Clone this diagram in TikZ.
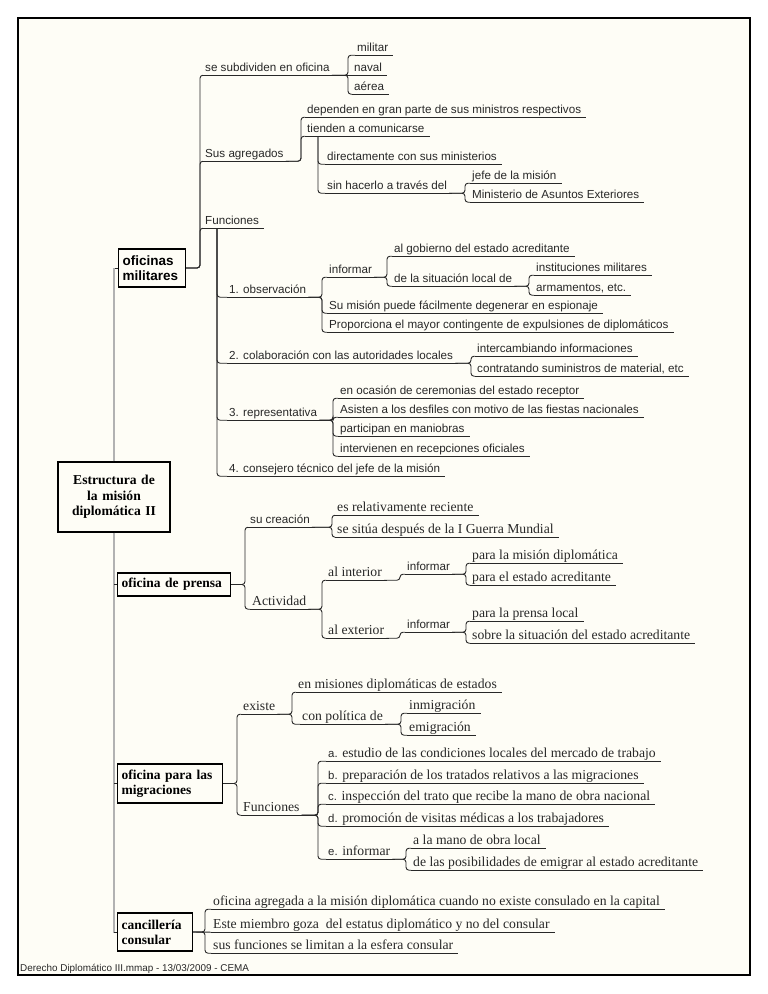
\documentclass[tikz,border=0pt]{standalone}
\usepackage{fontspec}
\setmainfont{Liberation Serif}
\setsansfont{Liberation Sans}
\definecolor{bg}{RGB}{254,253,246}
\definecolor{ink}{RGB}{40,40,40}
\newcommand\brr[3]{\draw[conn] (#1) -| (#3.south west -| #2) -- (#3.south west);}
\newcommand\brd[3]{\draw[conn] (#1.south -| #2) |- (#3.south west);}
\newcommand\lt[1]{{\sffamily\fontsize{11.4}{13}\selectfont #1}}
\begin{document}
\begin{tikzpicture}[x=1pt,y=-1pt,
 lbl/.style={anchor=base west, inner xsep=2pt, inner ysep=0pt, text depth=4pt, xshift=-2pt, text=ink},
 sn/.style={lbl, font=\sffamily\fontsize{11.65}{13}\selectfont},
 rn/.style={lbl, font=\rmfamily\fontsize{13.7}{15}\selectfont},
 ul/.style={draw=ink, line width=0.9pt},
 conn/.style={draw=ink, line width=0.9pt, rounded corners=3pt},
 trunk/.style={draw=black!30, line width=1.2pt},
 tick/.style={draw=ink, line width=0.9pt},
 box/.style={draw=black, line width=1.1pt, fill=bg, anchor=west, inner xsep=4pt, inner ysep=0pt, align=left},
]
\useasboundingbox (0,0) rectangle (768,994);
\fill[white] (0,0) rectangle (768,994);
\filldraw[fill=bg, draw=black, line width=1.2pt] (18,18) rectangle (750,975);

% vertical positions of brackets
\coordinate (vOM) at (200,0);
\coordinate (vS1) at (348,0);
\coordinate (vS2) at (301,0);
\coordinate (vS2b) at (318,0);
\coordinate (vS2b2) at (465,0);
\coordinate (vF) at (217,0);
\coordinate (vF1) at (322,0);
\coordinate (vF1a) at (387,0);
\coordinate (vF1a2) at (529,0);
\coordinate (vF2) at (471,0);
\coordinate (vF3) at (333,0);
\coordinate (vP) at (245,0);
\coordinate (vP1) at (332,0);
\coordinate (vP2) at (322,0);
\coordinate (vP2a) at (400,0);
\coordinate (vP2a1) at (466,0);
\coordinate (vM) at (237,0);
\coordinate (vM1) at (292,0);
\coordinate (vM1b) at (401,0);
\coordinate (vM2) at (318,0);
\coordinate (vM2e) at (406,0);
\coordinate (vC) at (205,0);

% main boxes
\node[box, anchor=center, align=center, text width=104pt, minimum height=70pt,
  font=\rmfamily\bfseries\fontsize{13.6}{15.5}\selectfont] (root) at (114,497)
  {Estructura de\\la misión\\diplomática II};
\node[box, text width=59pt, minimum height=38pt, font=\sffamily\bfseries\fontsize{13.5}{15}\selectfont] (om) at (118,268) {oficinas\\militares};
\node[box, text width=105pt, minimum height=23pt, font=\rmfamily\bfseries\fontsize{13.5}{15}\selectfont] (pr) at (117,584.5) {oficina de prensa};
\node[box, text width=97pt, minimum height=39pt, font=\rmfamily\bfseries\fontsize{13.5}{14.5}\selectfont] (mg) at (117,783.5) {oficina para las\\migraciones};
\node[box, text width=67pt, minimum height=38pt, font=\rmfamily\bfseries\fontsize{13.5}{15}\selectfont] (cc) at (117,932) {cancillería\\consular};

% trunk
\draw[trunk] (root.north) |- ([xshift=-4pt]om.west);
\draw[trunk] (root.south) |- ([xshift=-4pt]cc.west);
\draw[tick] ([xshift=-3pt]om.west) -- (om.west);
\draw[tick] ([xshift=-3pt]pr.west) -- (pr.west);
\draw[tick] ([xshift=-3pt]mg.west) -- (mg.west);
\draw[tick] ([xshift=-3pt]cc.west) -- (cc.west);

% oficinas militares
\node[sn] (s1) at (205,71) {se subdividen en oficina};
\node[sn] (s1a) at (357,51) {militar};
\node[sn] (s1b) at (354,71) {naval};
\node[sn] (s1c) at (354,90) {aérea};
\node[sn] (s2) at (205,157) {Sus agregados};
\node[sn] (s2a) at (307,113) {dependen en gran parte de sus ministros respectivos};
\node[sn] (s2b) at (307,132) {tienden a comunicarse};
\node[sn] (s2b1) at (327,160) {directamente con sus ministerios};
\node[sn] (s2b2) at (327,189) {sin hacerlo a través del};
\node[sn] (s2b2a) at (472,179) {jefe de la misión};
\node[sn] (s2b2b) at (472,198) {Ministerio de Asuntos Exteriores};
\node[sn] (s3) at (205,224) {Funciones};
\node[sn] (f1) at (229,293) {1. observación};
\node[sn] (f1a) at (329,273) {informar};
\node[sn] (f1a1) at (394,252) {al gobierno del estado acreditante};
\node[sn] (f1a2) at (394,282) {de la situación local de};
\node[sn] (f1a2a) at (536,271) {instituciones militares};
\node[sn] (f1a2b) at (536,291) {armamentos, etc.};
\node[sn] (f1b) at (329,309) {Su misión puede fácilmente degenerar en espionaje};
\node[sn] (f1c) at (329,328) {Proporciona el mayor contingente de expulsiones de diplomáticos};
\node[sn] (f2) at (229,359) {2. colaboración con las autoridades locales};
\node[sn] (f2a) at (477,352) {intercambiando informaciones};
\node[sn] (f2b) at (477,372) {contratando suministros de material, etc};
\node[sn] (f3) at (229,416) {3. representativa};
\node[sn] (f3a) at (340,394) {en ocasión de ceremonias del estado receptor};
\node[sn] (f3b) at (340,413) {Asisten a los desfiles con motivo de las fiestas nacionales};
\node[sn] (f3c) at (340,432) {participan en maniobras};
\node[sn] (f3d) at (340,452) {intervienen en recepciones oficiales};
\node[sn] (f4) at (229,472) {4. consejero técnico del jefe de la misión};

% oficina de prensa
\node[sn] (p1) at (250,523) {su creación};
\node[rn] (p1a) at (337,511) {es relativamente reciente};
\node[rn] (p1b) at (337,533) {se sitúa después de la I Guerra Mundial};
\node[rn] (p2) at (252,605) {Actividad};
\node[rn] (p2a) at (328,576) {al interior};
\node[sn] (p2a1) at (407,570) {informar};
\node[rn] (p2a1a) at (472,559) {para la misión diplomática};
\node[rn] (p2a1b) at (472,581) {para el estado acreditante};
\node[rn] (p2b) at (328,634) {al exterior};
\node[sn] (p2b1) at (407,628) {informar};
\node[rn] (p2b1a) at (472,617) {para la prensa local};
\node[rn] (p2b1b) at (472,639) {sobre la situación del estado acreditante};

% oficina para las migraciones
\node[rn] (m1) at (243,710) {existe};
\node[rn] (m1a) at (298,688) {en misiones diplomáticas de estados};
\node[rn] (m1b) at (302,720) {con política de};
\node[rn] (m1b1) at (409,709) {inmigración};
\node[rn] (m1b2) at (409,731) {emigración};
\node[rn] (m2) at (243,811) {Funciones};
\node[rn] (m2a) at (328,757) {\lt{a.} estudio de las condiciones locales del mercado de trabajo};
\node[rn] (m2b) at (328,779) {\lt{b.} preparación de los tratados relativos a las migraciones};
\node[rn] (m2c) at (328,800) {\lt{c.} inspección del trato que recibe la mano de obra nacional};
\node[rn] (m2d) at (328,822) {\lt{d.} promoción de visitas médicas a los trabajadores};
\node[rn] (m2e) at (328,855) {\lt{e.} informar};
\node[rn] (m2e1) at (413,844) {a la mano de obra local};
\node[rn] (m2e2) at (413,866) {de las posibilidades de emigrar al estado acreditante};

% cancilleria consular
\node[rn] (c1) at (213,905) {oficina agregada a la misión diplomática cuando no existe consulado en la capital};
\node[rn] (c2) at (213,928) {Este miembro goza \ del estatus diplomático y no del consular};
\node[rn] (c3) at (213,949) {sus funciones se limitan a la esfera consular};

% footer
\node[anchor=base west, inner sep=0pt, font=\sffamily\fontsize{9.9}{11}\selectfont, text=ink] (foot) at (20,971) {Derecho Diplomático III.mmap - 13/03/2009 - CEMA};

% underlines
\foreach \n in {s1,s1a,s1b,s1c,s2,s2a,s2b,s2b1,s2b2,s2b2a,s2b2b,s3,f1,f1a,f1a1,f1a2,f1a2a,f1a2b,f1b,f1c,f2,f2a,f2b,f3,f3a,f3b,f3c,f3d,f4,p1,p1a,p1b,p2,p2a,p2a1,p2a1a,p2a1b,p2b,p2b1,p2b1a,p2b1b,m1,m1a,m1b,m1b1,m1b2,m2,m2a,m2b,m2c,m2d,m2e,m2e1,m2e2,c1,c2,c3}
  \draw[ul] (\n.south west) -- ([xshift=3pt]\n.south east);

% connectors
\brr{om.east}{vOM}{s1}
\brr{om.east}{vOM}{s2}
\brr{om.east}{vOM}{s3}
\brr{s1.south east}{vS1}{s1a}
\draw[conn] (s1.south east) -- (s1b.south west);
\brr{s1.south east}{vS1}{s1c}
\brr{s2.south east}{vS2}{s2a}
\brr{s2.south east}{vS2}{s2b}
\brd{s2b}{vS2b}{s2b1}
\brd{s2b}{vS2b}{s2b2}
\brr{s2b2.south east}{vS2b2}{s2b2a}
\brr{s2b2.south east}{vS2b2}{s2b2b}
\brd{s3}{vF}{f1}
\brd{s3}{vF}{f2}
\brd{s3}{vF}{f3}
\brd{s3}{vF}{f4}
\brr{f1.south east}{vF1}{f1a}
\brr{f1.south east}{vF1}{f1b}
\brr{f1.south east}{vF1}{f1c}
\brr{f1a.south east}{vF1a}{f1a1}
\brr{f1a.south east}{vF1a}{f1a2}
\brr{f1a2.south east}{vF1a2}{f1a2a}
\brr{f1a2.south east}{vF1a2}{f1a2b}
\brr{f2.south east}{vF2}{f2a}
\brr{f2.south east}{vF2}{f2b}
\brr{f3.south east}{vF3}{f3a}
\brr{f3.south east}{vF3}{f3b}
\brr{f3.south east}{vF3}{f3c}
\brr{f3.south east}{vF3}{f3d}
\brr{pr.east}{vP}{p1}
\brr{pr.east}{vP}{p2}
\brr{p1.south east}{vP1}{p1a}
\brr{p1.south east}{vP1}{p1b}
\brr{p2.south east}{vP2}{p2a}
\brr{p2.south east}{vP2}{p2b}
\brr{p2a.south east}{vP2a}{p2a1}
\brr{p2a1.south east}{vP2a1}{p2a1a}
\brr{p2a1.south east}{vP2a1}{p2a1b}
\brr{p2b.south east}{vP2a}{p2b1}
\brr{p2b1.south east}{vP2a1}{p2b1a}
\brr{p2b1.south east}{vP2a1}{p2b1b}
\brr{mg.east}{vM}{m1}
\brr{mg.east}{vM}{m2}
\brr{m1.south east}{vM1}{m1a}
\brr{m1.south east}{vM1}{m1b}
\brr{m1b.south east}{vM1b}{m1b1}
\brr{m1b.south east}{vM1b}{m1b2}
\brr{m2.south east}{vM2}{m2a}
\brr{m2.south east}{vM2}{m2b}
\brr{m2.south east}{vM2}{m2c}
\brr{m2.south east}{vM2}{m2d}
\brr{m2.south east}{vM2}{m2e}
\brr{m2e.south east}{vM2e}{m2e1}
\brr{m2e.south east}{vM2e}{m2e2}
\brr{cc.east}{vC}{c1}
\draw[conn] (cc.east) -- (c2.south west);
\brr{cc.east}{vC}{c3}
\end{tikzpicture}
\end{document}
